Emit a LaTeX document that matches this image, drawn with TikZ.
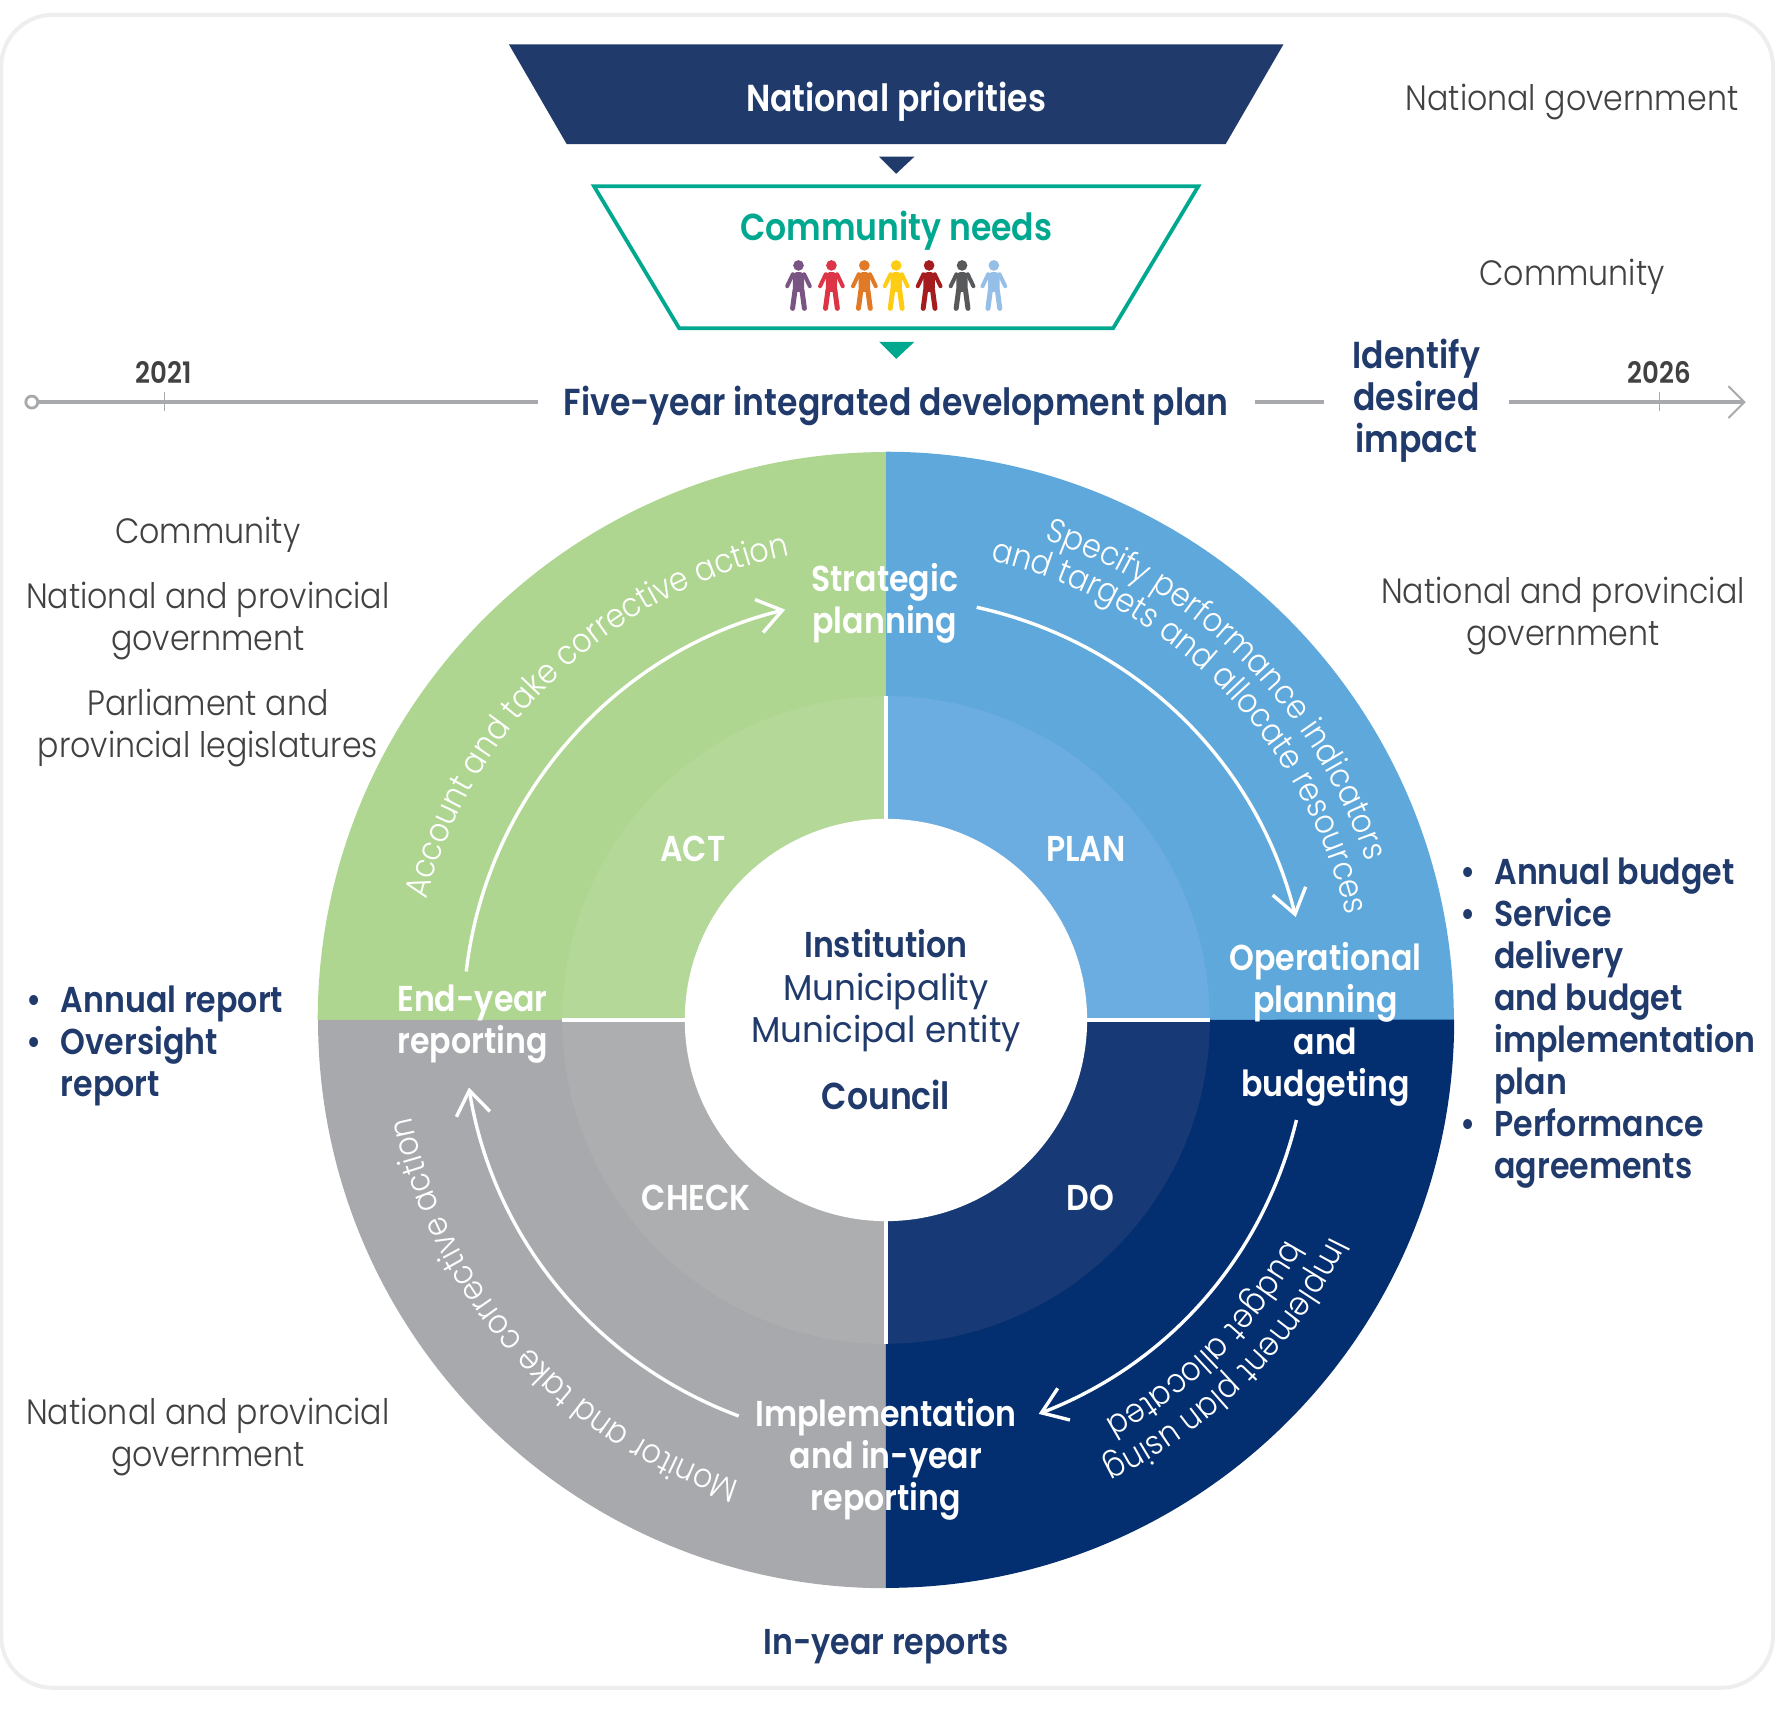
\documentclass[tikz,border=0pt]{standalone}
\usepackage{fontspec}
\setmainfont{Poppins}[FakeStretch=0.95]
\newfontfamily\thinfont{Poppins Light}[FakeStretch=0.9]
\newfontfamily\heavyfont{Poppins SemiBold}[FakeStretch=0.88]
\usetikzlibrary{arrows.meta,decorations.text}
\definecolor{navy}{HTML}{1F3A6B}
\definecolor{teal}{HTML}{00A88F}
\definecolor{graytxt}{HTML}{414042}
\definecolor{timegray}{HTML}{A7A9AC}
\definecolor{cardedge}{HTML}{EEEEEF}
\definecolor{planout}{HTML}{5EA8DC}
\definecolor{planin}{HTML}{6BADE0}
\definecolor{doout}{HTML}{032F70}
\definecolor{doin}{HTML}{173A76}
\definecolor{checkout}{HTML}{A7A9AC}
\definecolor{checkin}{HTML}{ADAEB0}
\definecolor{actout}{HTML}{AED690}
\definecolor{actin}{HTML}{B4D898}
\newcommand{\curvetext}[4]{\path[decorate,decoration={text along path,text align=center,text={|\color{white}\thinfont\fontsize{8.4}{9}\selectfont|#4}}] (#2:#1) arc[start angle=#2,end angle=#3,radius=#1*0.01cm];}
\newcommand{\bul}{\llap{\textbullet\hspace{4.8pt}}}
\begin{document}
\begin{tikzpicture}[x=0.01cm,y=-0.01cm]
        \tikzset{
            quiet/.style={font=\thinfont\fontsize{8.8}{10.5}\selectfont,text=graytxt,align=center,inner sep=0pt,yshift=-0.04cm},
            strong/.style={font=\heavyfont\fontsize{9}{10.5}\selectfont,text=navy,align=center,inner sep=0pt,yshift=-0.04cm},
            head/.style={strong,font=\heavyfont\fontsize{9.4}{10.5}\selectfont},
            ringlab/.style={strong,text=white},
            year/.style={font=\heavyfont\fontsize{7.4}{8}\selectfont,text=graytxt,inner sep=0pt},
            timeline/.style={draw=timegray,line width=1.1pt},
            tick/.style={draw=timegray,line width=0.35pt},
            cycle/.style={draw=white,line width=0.85pt,-{Straight Barb[length=6pt,width=8.5pt,line width=0.85pt]}},
            sep/.style={draw=white,line width=0.9pt},
            person/.pic={
                \fill (0,4.7) circle[radius=4.7];
                \fill[rounded corners=1pt] (-5,10.5) -- (5,10.5) -- (5,28) -- (-5,28) -- cycle;
                \draw[line width=1pt,line cap=round] (-5,12.5) -- (-10,23) (5,12.5) -- (10,23);
                \draw[line width=1.25pt,line cap=round] (-3,26) -- (-5.2,42.5) (3,26) -- (5.2,42.5);
            }
        }
        \useasboundingbox (0,0) rectangle (1568,1516);
        \draw[cardedge,line width=1pt,fill=white,rounded corners=13pt] (1,13) rectangle (1561,1486);

        \fill[navy] (448,39) -- (1130,39) -- (1079,127) -- (499,127) -- cycle;
        \node[head,text=white] (priorities) at (789,86) {National priorities};
        \fill[navy] (774,138) -- (805,138) -- (789,153) -- cycle;
        \draw[teal,line width=0.95pt] (523,164) -- (1055,164) -- (980,289) -- (598,289) -- cycle;
        \node[head,text=teal] (needs) at (789,199) {Community needs};
        \foreach \px/\pcol in {703/7A5483,732/DC3545,761/E07A26,789/FFCC14,818/A51C1E,847/58595B,875/95BFE6}{
            \definecolor{pcol}{HTML}{\pcol}
            \pic[fill=pcol,draw=pcol] at (\px,229) {person};
        }
        \fill[teal] (774,301) -- (805,301) -- (789,316) -- cycle;

        \node[circle,draw=timegray,line width=0.7pt,fill=white,minimum size=3pt,inner sep=0pt] (start) at (28,354) {};
        \node[head,inner xsep=6.3pt] (idp) at (789,353) {Five-year integrated development plan};
        \node[head,inner xsep=7pt] (impact) at (1247,349) {Identify\\desired\\impact};
        \coordinate (lineend) at (1537,354);
        \draw[timeline] (start) -- (idp.west |- start);
        \draw[timeline] (idp.east |- start) -- (impact.west |- start);
        \draw[timeline,-{Straight Barb[length=4pt,width=8pt,line width=0.5pt]},line width=0.9pt] (impact.east |- start) -- (lineend);
        \draw[tick] (145,345) -- (145,362);
        \draw[tick] (1461,345) -- (1461,362);
        \node[year] (y21) at (144,328) {2021};
        \node[year] (y26) at (1461,328) {2026};

        \coordinate (c) at (780,898);
        \begin{scope}[shift={(c)},y=0.01cm]
            \foreach \ang/\cout/\cin in {0/planout/planin,90/actout/actin,180/checkout/checkin,270/doout/doin}{
                \fill[\cout] (0,0) -- (\ang:500) arc[start angle=\ang,delta angle=90,radius=5cm] -- cycle;
                \fill[\cin] (0,0) -- (\ang:285) arc[start angle=\ang,delta angle=90,radius=2.85cm] -- cycle;
            }
            \draw[sep] (0,285) -- (0,-285) (-285,0) -- (285,0);
            \fill[white] (0,0) circle[radius=1.77cm];

            \coordinate (pa) at (77.6:372);
            \coordinate (pb) at (14.1:372);
            \coordinate (da) at (-13.7:372);
            \coordinate (db) at (-68.8:372);
            \coordinate (ca) at (-110.4:372);
            \coordinate (cb) at (-170.8:372);
            \coordinate (aa) at (173.4:372);
            \coordinate (ab) at (103.8:372);
            \draw[cycle] (pa) to[out=-12.4,in=104.1,looseness=0.93] (pb);
            \draw[cycle] (da) to[out=-103.7,in=21.2,looseness=0.92] (db);
            \draw[cycle] (ca) to[out=-200.4,in=-80.8,looseness=0.92] (cb);
            \draw[cycle] (aa) to[out=83.4,in=193.8,looseness=0.93] (ab);

            \curvetext{445}{85}{5}{Specify performance indicators}
            \curvetext{415}{85}{5}{and targets and allocate resources}
            \curvetext{435}{-15}{-75}{Implement plan using}
            \curvetext{402}{-15}{-75}{budget allocated}
            \curvetext{426}{-78}{-198}{Monitor and take corrective action}
            \curvetext{418}{191}{76}{Account and take corrective action}
        \end{scope}

        \node[ringlab] (strategic) at (779,527) {Strategic\\planning};
        \node[ringlab] (operational) at (1167,898) {Operational\\planning\\and\\budgeting};
        \node[ringlab] (implementation) at (780,1281) {Implementation\\and in-year\\reporting};
        \node[ringlab] (endyear) at (416,898) {End-year\\reporting};
        \node[ringlab] (actlab) at (610,743) {ACT};
        \node[ringlab] (planlab) at (956,743) {PLAN};
        \node[ringlab] (dolab) at (960,1051) {DO};
        \node[ringlab] (checklab) at (613,1051) {CHECK};

        \node[strong] (institution) at (780,827) {Institution};
        \node[strong,font=\rmfamily\fontsize{9}{10.5}\selectfont] (entity) at (780,887) {Municipality\\Municipal entity};
        \node[head] (council) at (780,960) {Council};

        \node[quiet] (natgov) at (1384,86) {National government};
        \node[quiet] (comright) at (1384,240) {Community};
        \node[quiet] (comleft) at (183,467) {Community};
        \node[quiet] (npleft) at (183,543) {National and provincial\\government};
        \node[quiet] (parl) at (183,637) {Parliament and\\provincial legislatures};
        \node[quiet] (npright) at (1376,538) {National and provincial\\government};
        \node[quiet] (npbottom) at (183,1261) {National and provincial\\government};

        \node[strong,align=left,anchor=west] (reports) at (53,917) {\bul Annual report\\\bul Oversight\\report};
        \node[strong,align=left,anchor=west] (budget) at (1315,897) {\bul Annual budget\\\bul Service\\delivery\\and budget\\implementation\\plan\\\bul Performance\\agreements};
        \node[strong] (inyear) at (780,1446) {In-year reports};
    \end{tikzpicture}
\end{document}
